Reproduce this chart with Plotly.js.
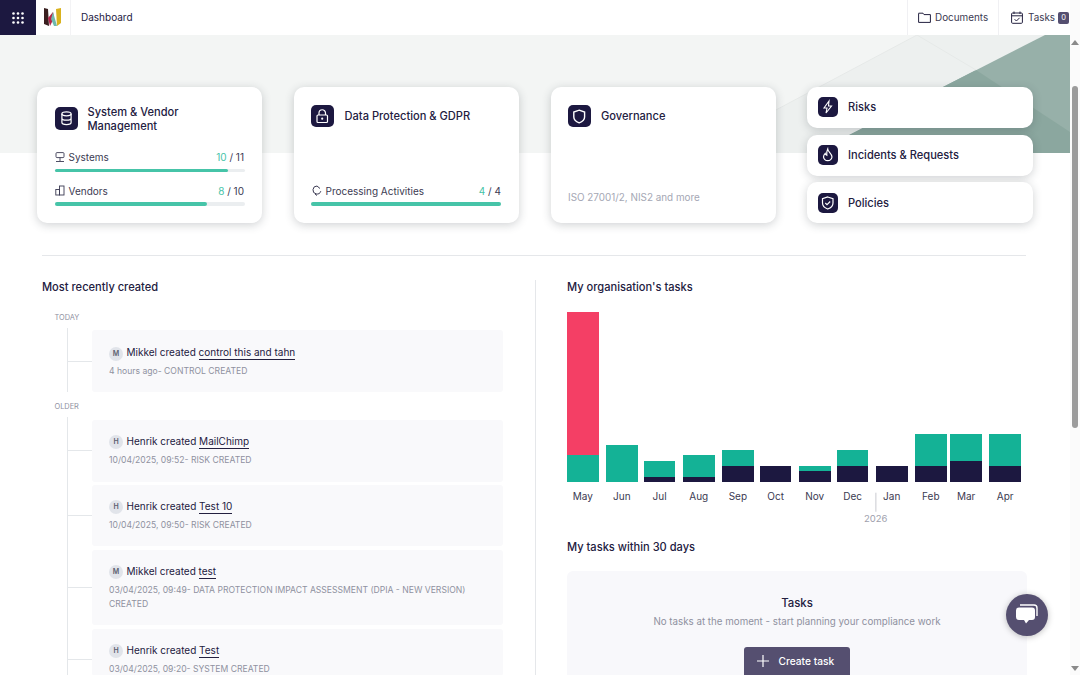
<!DOCTYPE html>
<html><head><meta charset="utf-8">
<script src="https://cdn.plot.ly/plotly-3.0.1.min.js"></script>
<style>
*{box-sizing:border-box}
html,body{margin:0;padding:0;width:1080px;height:675px;overflow:hidden;background:#fff;font-family:Inter,"Noto Sans",sans-serif;color:#23203f}
.a{position:absolute;white-space:nowrap;line-height:1}
.c{transform:translateY(-50%)}
.card{position:absolute;background:#fff;border-radius:10px;box-shadow:0 2px 10px rgba(40,50,60,.22)}
.ic{position:absolute;background:#1c1840;border-radius:5px}
.ic svg{position:absolute;left:0;top:0;width:100%;height:100%}
.bar{position:absolute;height:3.5px;border-radius:2px;background:#ebeef0}
.bar i{display:block;height:100%;border-radius:2px;background:#46c4a8}
.item{position:absolute;left:92px;width:411px;background:#f9f9fb;border-radius:3px}
.tl{position:absolute;background:#e4e7ea}
.av{position:absolute;left:109px;width:14px;height:14px;border-radius:50%;background:#e1e4ea;color:#5c5f70;font-size:7px;font-weight:600;text-align:center;line-height:14px;margin-top:.5px}
.nm{font-size:10px;color:#23203f;margin-top:.5px}
.nm u{text-decoration:none;border-bottom:1px solid #23203f;padding-bottom:1px}
.sub{font-size:8.6px;color:#8f919f}
.ttl{font-size:11.1px;font-weight:500;color:#23203f;margin-top:2px}
.lab{font-size:10px;color:#3b3a52;margin-top:.25px}
#chart{position:absolute;left:550px;top:302px;width:490px;height:228px}
</style></head><body>
<!-- hero -->
<div class="a" style="left:0;top:35px;width:1070px;height:118px;background:#f3f5f4"></div>
<svg class="a" style="left:0;top:35px" width="1070" height="118" viewBox="0 35 1070 118">
<polygon points="917,35 1070,35 1070,153 695,153" fill="#edf0ef"/>
<polygon points="1045,35 1070,35 1070,153 814,153" fill="#97b0a9"/>
<polygon points="976,70 1070,132 1070,153 814,153" fill="#8ba79f"/>
<line x1="917" y1="35" x2="695" y2="153" stroke="#e6e9e8" stroke-width="1"/>
<line x1="917" y1="35" x2="976" y2="70" stroke="#e6e9e8" stroke-width="1"/>
</svg>
<!-- header -->
<div class="a" style="left:0;top:0;width:1070px;height:35px;background:#fff"></div>
<div class="a" style="left:1070px;top:0;width:10px;height:675px;background:#fbfbfb"></div>
<div class="a" style="left:1071.5px;top:86px;width:6px;height:342px;background:#9c9c9c;border-radius:3px"></div>
<svg class="a" style="left:1071px;top:40px" width="8" height="6"><polygon points="4,0 8,5 0,5" fill="#8a8a8a"/></svg>
<svg class="a" style="left:1071px;top:666px" width="8" height="6"><polygon points="0,0 8,0 4,5" fill="#8a8a8a"/></svg>
<div class="a" style="left:0;top:0;width:35.5px;height:35px;background:#1c1840"></div>
<svg class="a" style="left:12px;top:12px" width="12" height="12"><g fill="#fff"><circle cx="1.5" cy="1.5" r="1.3"/><circle cx="6" cy="1.5" r="1.3"/><circle cx="10.5" cy="1.5" r="1.3"/><circle cx="1.5" cy="6" r="1.3"/><circle cx="6" cy="6" r="1.3"/><circle cx="10.5" cy="6" r="1.3"/><circle cx="1.5" cy="10.5" r="1.3"/><circle cx="6" cy="10.5" r="1.3"/><circle cx="10.5" cy="10.5" r="1.3"/></g></svg>
<svg class="a" style="left:44px;top:8px" width="18" height="19" viewBox="0 0 18 19"><polygon points="0,0 4,1 5,18 0,16" fill="#3a2020"/><polygon points="4,10 9,4 10,10 6,18" fill="#b5244a"/><polygon points="9,4 13,18 10,18 7,11" fill="#6fb8ae"/><polygon points="12,1 17,0 17,15 13,18" fill="#d9b21e"/></svg>
<div class="a" style="left:70px;top:0;width:1px;height:35px;background:#f3f3f5"></div>
<div class="a c" style="left:81px;top:17px;font-size:10px">Dashboard</div>
<div class="a" style="left:907px;top:0;width:1px;height:35px;background:#f0f0f3"></div>
<div class="a" style="left:998px;top:0;width:1px;height:35px;background:#f0f0f3"></div>
<svg class="a" style="left:918px;top:11px" width="13" height="13" viewBox="0 0 13 13"><path d="M.6 2.6V11.4H12.4V3.6H6L5 2.2H.6z" fill="none" stroke="#23203f" stroke-width="1"/></svg>
<div class="a c" style="left:935px;top:17.5px;font-size:9.9px;color:#3b3a52">Documents</div>
<svg class="a" style="left:1011px;top:11px" width="12" height="13" viewBox="0 0 12 13"><rect x=".6" y="2" width="10.8" height="10.3" rx="1" fill="none" stroke="#23203f"/><path d="M3 .5V3M9 .5V3M.6 4.8H11.4M3.6 8.2L5.4 10 8.6 6.8" fill="none" stroke="#23203f"/></svg>
<div class="a c" style="left:1028px;top:17.5px;font-size:9.9px;color:#3b3a52">Tasks</div>
<div class="a" style="left:1058px;top:12px;width:11px;height:11.5px;border-radius:2px;background:#554f70;color:#fff;font-size:7.5px;text-align:center;line-height:11.5px">0</div>

<!-- card 1 -->
<div class="card" style="left:37px;top:87px;width:225px;height:136px"></div>
<div class="ic" style="left:54.5px;top:107px;width:23px;height:22.5px"><svg viewBox="0 0 23 22.5"><g fill="none" stroke="#fff" stroke-width="1.2"><ellipse cx="11.5" cy="6.8" rx="4.6" ry="2"/><path d="M6.9 6.8V15.6C6.9 16.8 9 17.6 11.5 17.6S16.1 16.8 16.1 15.6V6.8M6.9 11.2C6.9 12.4 9 13.2 11.5 13.2S16.1 12.4 16.1 11.2"/></g></svg></div>
<div class="a ttl c" style="left:87.5px;top:111px">System &amp; Vendor</div>
<div class="a ttl c" style="left:87.5px;top:124.5px">Management</div>
<svg class="a" style="left:55px;top:151.5px" width="10" height="11" viewBox="0 0 10 11"><g fill="none" stroke="#3b3a52" stroke-width=".9"><rect x="1" y=".6" width="8" height="5" rx="1"/><path d="M5 5.6V9M1 9.5H9"/></g></svg>
<div class="a lab c" style="left:68.5px;top:157px">Systems</div>
<div class="a lab c" style="right:836px;top:157px;"><span style="color:#46c4a8">10</span> / 11</div>
<div class="bar" style="left:54.7px;top:168.8px;width:190px"><i style="width:91%"></i></div>
<svg class="a" style="left:55px;top:185px" width="10" height="11" viewBox="0 0 10 11"><g fill="none" stroke="#3b3a52" stroke-width=".9"><rect x="4.5" y="1" width="4.5" height="9"/><rect x=".8" y="4.5" width="3.7" height="5.5"/></g></svg>
<div class="a lab c" style="left:68.5px;top:190.5px">Vendors</div>
<div class="a lab c" style="right:836px;top:190.5px"><span style="color:#46c4a8">8</span> / 10</div>
<div class="bar" style="left:54.7px;top:202.2px;width:190px"><i style="width:80%"></i></div>

<!-- card 2 -->
<div class="card" style="left:294px;top:87px;width:225px;height:136px"></div>
<div class="ic" style="left:311px;top:104.5px;width:22.5px;height:22.5px"><svg viewBox="0 0 22.5 22.5"><g fill="none" stroke="#fff" stroke-width="1.2"><rect x="6" y="10" width="10.5" height="7.5" rx="1"/><path d="M8 10V8A3.2 3.2 0 0 1 14.5 8V10"/></g><circle cx="11.2" cy="13.7" r="1.1" fill="#fff"/></svg></div>
<div class="a ttl c" style="left:344.5px;top:114.5px">Data Protection &amp; GDPR</div>
<svg class="a" style="left:311.5px;top:185px" width="10" height="11" viewBox="0 0 10 11"><path d="M5 1A4 4 0 1 0 8.8 6.2M5 1L8 3.5M3 9L5 10.5" fill="none" stroke="#3b3a52" stroke-width="1"/></svg>
<div class="a lab c" style="left:325.5px;top:190.5px">Processing Activities</div>
<div class="a lab c" style="right:579px;top:190.5px"><span style="color:#46c4a8">4</span> / 4</div>
<div class="bar" style="left:311px;top:202.2px;width:190px"><i style="width:100%"></i></div>

<!-- card 3 -->
<div class="card" style="left:551px;top:87px;width:225px;height:136px"></div>
<div class="ic" style="left:568px;top:104.5px;width:22.5px;height:22.5px"><svg viewBox="0 0 22.5 22.5"><path d="M11.2 5.2L16.6 7V12C16.6 15 14 16.8 11.2 17.8 8.4 16.8 5.8 15 5.8 12V7z" fill="none" stroke="#fff" stroke-width="1.4"/></svg></div>
<div class="a ttl c" style="left:601px;top:114.5px">Governance</div>
<div class="a c" style="left:568px;top:197.5px;font-size:9.9px;color:#a5a7b4">ISO 27001/2, NIS2 and more</div>

<!-- small cards -->
<div class="card" style="left:807px;top:87px;width:226px;height:41px"></div>
<div class="ic" style="left:818px;top:97.3px;width:19.5px;height:20px"><svg viewBox="0 0 19.5 20"><path d="M11 4L6 11H9L8 16 13.5 9H10.5z" fill="none" stroke="#fff" stroke-width="1.1"/></svg></div>
<div class="a ttl c" style="left:848px;top:106px">Risks</div>
<div class="card" style="left:807px;top:134.5px;width:226px;height:41px"></div>
<div class="ic" style="left:818px;top:145px;width:19.5px;height:20px"><svg viewBox="0 0 19.5 20"><path d="M9.7 4C10 7 14 8.5 14 12A4.3 4.3 0 0 1 5.5 12C5.5 10.3 6.5 9 7.2 8.3 7.5 9.5 8 10 8.8 10.3 8.5 8 9 5.5 9.7 4z" fill="none" stroke="#fff" stroke-width="1.2"/></svg></div>
<div class="a ttl c" style="left:848px;top:154px">Incidents &amp; Requests</div>
<div class="card" style="left:807px;top:182.3px;width:226px;height:41px"></div>
<div class="ic" style="left:818px;top:193px;width:19.5px;height:20px"><svg viewBox="0 0 19.5 20"><path d="M9.7 4L15 5.8V10C15 13 12.5 15 9.7 16 7 15 4.5 13 4.5 10V5.8z" fill="none" stroke="#fff" stroke-width="1.2"/><path d="M7.3 10L9 11.7 12.2 8.5" fill="none" stroke="#fff" stroke-width="1.1"/></svg></div>
<div class="a ttl c" style="left:848px;top:201.5px">Policies</div>

<!-- dividers -->
<div class="a" style="left:42px;top:255px;width:984px;height:1px;background:#e5e7ea"></div>
<div class="a" style="left:535px;top:280px;width:1px;height:395px;background:#e5e7ea"></div>

<!-- left column -->
<div class="a ttl c" style="left:42px;top:286px">Most recently created</div>
<div class="a c" style="left:54.5px;top:317.5px;font-size:7.4px;color:#8f919f">TODAY</div>
<div class="a c" style="left:54.5px;top:406.5px;font-size:7.4px;color:#8f919f">OLDER</div>
<div class="tl" style="left:67px;top:328px;width:1px;height:64px"></div>
<div class="tl" style="left:67px;top:417px;width:1px;height:258px"></div>
<div class="tl" style="left:67px;top:361px;width:25px;height:1px"></div>
<div class="tl" style="left:67px;top:450px;width:25px;height:1px"></div>
<div class="tl" style="left:67px;top:515px;width:25px;height:1px"></div>
<div class="tl" style="left:67px;top:587px;width:25px;height:1px"></div>
<div class="tl" style="left:67px;top:659px;width:25px;height:1px"></div>

<div class="item" style="top:330px;height:62px"></div>
<div class="av" style="top:346px">M</div>
<div class="a nm c" style="left:126.5px;top:351.5px">Mikkel created <u>control this and tahn</u></div>
<div class="a sub c" style="left:109px;top:370.5px">4 hours ago- CONTROL CREATED</div>

<div class="item" style="top:419.5px;height:62px"></div>
<div class="av" style="top:434.5px">H</div>
<div class="a nm c" style="left:126.5px;top:440.5px">Henrik created <u>MailChimp</u></div>
<div class="a sub c" style="left:109px;top:460px">10/04/2025, 09:52- RISK CREATED</div>

<div class="item" style="top:484.5px;height:61px"></div>
<div class="av" style="top:499.5px">H</div>
<div class="a nm c" style="left:126.5px;top:505.5px">Henrik created <u>Test 10</u></div>
<div class="a sub c" style="left:109px;top:525px">10/04/2025, 09:50- RISK CREATED</div>

<div class="item" style="top:549.5px;height:75.5px"></div>
<div class="av" style="top:564.5px">M</div>
<div class="a nm c" style="left:126.5px;top:570.5px">Mikkel created <u>test</u></div>
<div class="a sub c" style="left:109px;top:590px">03/04/2025, 09:49- DATA PROTECTION IMPACT ASSESSMENT (DPIA - NEW VERSION)</div>
<div class="a sub c" style="left:109px;top:604px">CREATED</div>

<div class="item" style="top:628.5px;height:47px"></div>
<div class="av" style="top:643.5px">H</div>
<div class="a nm c" style="left:126.5px;top:649.5px">Henrik created <u>Test</u></div>
<div class="a sub c" style="left:109px;top:669px">03/04/2025, 09:20- SYSTEM CREATED</div>

<!-- right column -->
<div class="a ttl c" style="left:567px;top:286px">My organisation's tasks</div>
<div id="chart"></div>
<div class="a ttl c" style="left:567px;top:546px">My tasks within 30 days</div>
<div class="a" style="left:567px;top:571px;width:460px;height:104px;background:#f8f8fb;border-radius:6px 6px 0 0"></div>
<div class="a ttl c" style="left:797px;top:602px;transform:translate(-50%,-50%);font-size:11.4px">Tasks</div>
<div class="a c" style="left:797px;top:621.5px;transform:translate(-50%,-50%);font-size:9.75px;color:#8f919f">No tasks at the moment - start planning your compliance work</div>
<div class="a" style="left:743.5px;top:647px;width:106.5px;height:28px;background:#554f70;border-radius:3px 3px 0 0"></div>
<svg class="a" style="left:757px;top:655px" width="12" height="12"><path d="M6 0V12M0 6H12" stroke="#fff" stroke-width="1.2"/></svg>
<div class="a c" style="left:778.5px;top:661px;font-size:10.2px;font-weight:500;color:#fff">Create task</div>
<div class="a" style="left:1006px;top:593.5px;width:42px;height:42px;border-radius:50%;background:#554f70;box-shadow:0 1px 6px rgba(0,0,0,.25)"></div>
<svg class="a" style="left:1015px;top:604px" width="25" height="23" viewBox="0 0 25 23"><path d="M5 1H19Q22 1 22 4V12" fill="none" stroke="#fff" stroke-width="1.4"/><path d="M4 3.5H17Q20 3.5 20 6.5V13Q20 16 17 16H14L11 19.5 9 16H4Q1 16 1 13V6.5Q1 3.5 4 3.5z" fill="#fff"/></svg>

<script>
const months = ["2025-05-01","2025-06-01","2025-07-01","2025-08-01","2025-09-01","2025-10-01","2025-11-01","2025-12-01","2026-01-01","2026-02-01","2026-03-01","2026-04-01"];
const monthLabels = ["May","Jun","Jul","Aug","Sep","Oct","Nov","Dec","Jan","Feb","Mar","Apr"];
const darkValues = [0,0,1,1,3,3,2,3,3,3,4,3];
const tealValues = [5,7,3,4,3,0,1,3,0,6,5,6];
const redValues  = [27,0,0,0,0,0,0,0,0,0,0,0];
const yearLabel = "2026";
const barDays = 25.1, dayMs = 86400000;
const mk = (y,color) => ({type:"bar",x:months,y:y,width:barDays*dayMs,marker:{color:color,line:{width:0}},hoverinfo:"x+y",showlegend:false});
Plotly.newPlot("chart",[mk(darkValues,"#1c1840"),mk(tealValues,"#14b296"),mk(redValues,"#f43f65")],{
  barmode:"stack",width:490,height:228,autosize:false,
  margin:{l:0,r:0,t:10,b:48,pad:0},
  paper_bgcolor:"rgba(0,0,0,0)",plot_bgcolor:"rgba(0,0,0,0)",showlegend:false,
  font:{family:"Inter, sans-serif",size:10,color:"#3b3a52"},
  xaxis:{type:"date",range:["2025-04-05 02:00","2026-04-28 14:00"],tickmode:"array",tickvals:months,ticktext:monthLabels,showgrid:false,zeroline:false,showline:false,ticks:"outside",ticklen:5,tickcolor:"rgba(0,0,0,0)",tickfont:{family:"Inter, sans-serif",size:10,color:"#3b3a52"}},
  yaxis:{range:[0,32],showgrid:false,zeroline:false,showline:false,showticklabels:false,ticks:""},
  shapes:[{type:"line",xref:"x",yref:"paper",x0:"2025-12-19 11:00",x1:"2025-12-19 11:00",y0:-0.063,y1:-0.175,line:{color:"#c9cad0",width:1}}],
  annotations:[{xref:"x",yref:"paper",x:"2025-12-19 11:00",y:-0.215,text:yearLabel,showarrow:false,font:{family:"Inter, sans-serif",size:9.5,color:"#a0a1ad"},xanchor:"center",yanchor:"middle"}]
},{displayModeBar:false,staticPlot:true});
</script>
</body></html>
